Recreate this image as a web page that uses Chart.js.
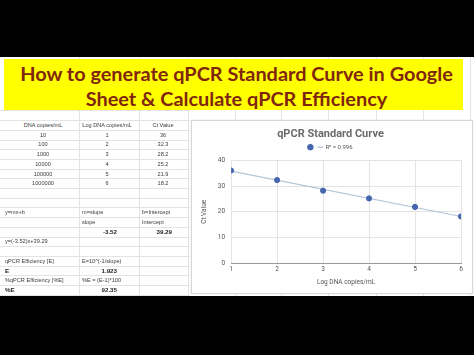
<!DOCTYPE html>
<html><head><meta charset="utf-8">
<script src="https://cdn.jsdelivr.net/npm/chart.js@4/dist/chart.umd.min.js"></script>
<style>
html,body{margin:0;padding:0;background:#000;}
#page{position:relative;width:474px;height:355px;overflow:hidden;background:#000;font-family:Arial,"Liberation Sans",sans-serif;}
#sheet{position:absolute;left:0;top:57px;width:474px;height:239px;background:#fff;}
.vl{position:absolute;width:1px;background:#e3e3e3;}
.hl{position:absolute;height:1px;background:#e3e3e3;left:0;width:190px;}
#banner{position:absolute;left:4px;top:59px;width:459px;height:51px;background:#ffff00;}
.bt{position:absolute;left:0;width:100%;text-align:center;font-family:Lato,"Open Sans",sans-serif;font-weight:700;color:#80260f;font-size:19.9px;white-space:nowrap;line-height:24px;}
.c{position:absolute;font-size:5.6px;color:#3a3a3a;white-space:nowrap;line-height:8px;}
.b{font-weight:bold;color:#222;font-size:6.2px;}
#chartbox{position:absolute;left:191px;top:120px;width:280px;height:172px;background:#fff;border:1px solid #d8d8d8;box-shadow:0 0 1px #ccc;}
</style></head><body>
<div id="page">
<div id="sheet"></div>
<div id="banner">
 <div class="bt" style="top:2px;left:3px">How to generate qPCR Standard Curve in Google</div>
 <div class="bt" style="top:27px;left:3px">Sheet &amp; Calculate qPCR Efficiency</div>
</div>
<div id="chartbox"><canvas id="c" width="280" height="172"></canvas></div>
</div>
<script>
// ---- spreadsheet data ----
const headers = ["DNA copies/mL", "Log DNA copies/mL", "Ct Value"];
const dnaCopies = ["10", "100", "1000", "10000", "100000", "1000000"];
const logCopies = [1, 2, 3, 4, 5, 6];
const ctValues = [36, 32.3, 28.2, 25.2, 21.9, 18.2];
const eqLabels = ["y=mx+b", "m=slope", "b=Intercept"];
const eqNames = ["slope", "Intercept"];
const slopeIntercept = ["-3.52", "39.29"];
const lineEquation = "y=(-3.52)x+39.29";
const effLabels = ["qPCR Efficiency [E]", "E=10^(-1/slope)", "E", "1.923",
                   "%qPCR Efficiency [%E]", "%E = (E-1)*100", "%E", "92.35"];
// ---- chart data ----
const chartTitle = "qPCR Standard Curve";
const trendLabel = "R\u00b2 = 0.996";
const trendX = [1, 6];
const trendY = [35.77, 18.17];
const xTitle = "Log DNA copies/mL";
const yTitle = "Ct Value";

// ---- sheet grid ----
const sheet = document.getElementById('sheet');
const page = document.getElementById('page');
[79, 139, 188, 235, 281, 328, 376, 423, 470].forEach(x => {
  const d = document.createElement('div'); d.className = 'vl';
  d.style.left = x + 'px'; d.style.top = '0px'; d.style.height = '239px';
  sheet.appendChild(d);
});
const rowTop = k => 120.15 + (k - 1) * 9.7;
for (let k = 0; k <= 19; k++) {
  const d = document.createElement('div'); d.className = 'hl';
  d.style.top = (Math.round(rowTop(k)) - 57) + 'px';
  sheet.appendChild(d);
}
function cell(text, k, x, align, bold) {
  const d = document.createElement('div');
  d.className = 'c' + (bold ? ' b' : '');
  d.textContent = text;
  const cy = rowTop(k) + 4.85;
  d.style.top = (cy - 4) + 'px';
  if (align === 'center') { d.style.left = (x - 50) + 'px'; d.style.width = '100px'; d.style.textAlign = 'center'; }
  else if (align === 'right') { d.style.left = (x - 100) + 'px'; d.style.width = '100px'; d.style.textAlign = 'right'; }
  else { d.style.left = x + 'px'; }
  page.appendChild(d);
}
const colCenters = [43, 107, 163];
headers.forEach((h, i) => cell(h, 1, colCenters[i], 'center'));
dnaCopies.forEach((v, r) => {
  cell(v, 2 + r, colCenters[0], 'center');
  cell(String(logCopies[r]), 2 + r, colCenters[1], 'center');
  cell(String(ctValues[r]), 2 + r, colCenters[2], 'center');
});
cell(eqLabels[0], 10, 5, 'left'); cell(eqLabels[1], 10, 82, 'left'); cell(eqLabels[2], 10, 142, 'left');
cell(eqNames[0], 11, 82, 'left'); cell(eqNames[1], 11, 142, 'left');
cell(slopeIntercept[0], 12, 117, 'right', true); cell(slopeIntercept[1], 12, 172, 'right', true);
cell(lineEquation, 13, 5, 'left');
cell(effLabels[0], 15, 5, 'left'); cell(effLabels[1], 15, 82, 'left');
cell(effLabels[2], 16, 5, 'left', true); cell(effLabels[3], 16, 117, 'right', true);
cell(effLabels[4], 17, 5, 'left'); cell(effLabels[5], 17, 82, 'left');
cell(effLabels[6], 18, 5, 'left', true); cell(effLabels[7], 18, 117, 'right', true);

// ---- chart ----
const pts = logCopies.map((x, i) => ({x: x, y: ctValues[i]}));
const tpts = trendX.map((x, i) => ({x: x, y: trendY[i]}));
new Chart(document.getElementById('c'), {
  type: 'scatter',
  data: {
    datasets: [
      {label: '', data: pts, backgroundColor: '#4667ad', borderColor: '#4667ad',
       pointRadius: 2.6, pointStyle: 'circle', order: 0},
      {label: trendLabel, type: 'line', data: tpts, borderColor: '#b3c3d9', borderWidth: 1.2,
       pointRadius: 0, pointStyle: 'line', backgroundColor: '#b3c3d9', fill: false, order: 1}
    ]
  },
  options: {
    responsive: false, animation: false,
    layout: {padding: {left: 8, right: 11, top: 0, bottom: 7}},
    plugins: {
      title: {display: true, text: chartTitle, color: '#6b6b6b',
              font: {family: 'Roboto', size: 11, weight: 'bold'}, padding: {top: 7, bottom: 0}},
      legend: {display: true, position: 'top',
               labels: {usePointStyle: true, boxWidth: 4, boxHeight: 4, padding: 3, color: '#555',
                        font: {family: 'Roboto', size: 6}}},
      tooltip: {enabled: false}
    },
    scales: {
      x: {type: 'linear', min: 1, max: 6,
          ticks: {stepSize: 1, color: '#555', font: {family: 'Roboto', size: 6.5}, padding: 2},
          grid: {color: '#e4e4e4', drawTicks: false},
          border: {color: '#9a9a9a', width: 1},
          title: {display: true, text: xTitle, color: '#555', font: {family: 'Roboto', size: 6.5}, padding: {top: 3, bottom: 0}}},
      y: {type: 'linear', min: 0, max: 40,
          ticks: {stepSize: 10, color: '#555', font: {family: 'Roboto', size: 6.5}, padding: 6},
          grid: {color: '#e4e4e4', drawTicks: false},
          border: {display: false},
          title: {display: true, text: yTitle, color: '#555', font: {family: 'Roboto', size: 6.5}, padding: {top: 0, bottom: 4}}}
    }
  }
});
</script>
</body></html>
